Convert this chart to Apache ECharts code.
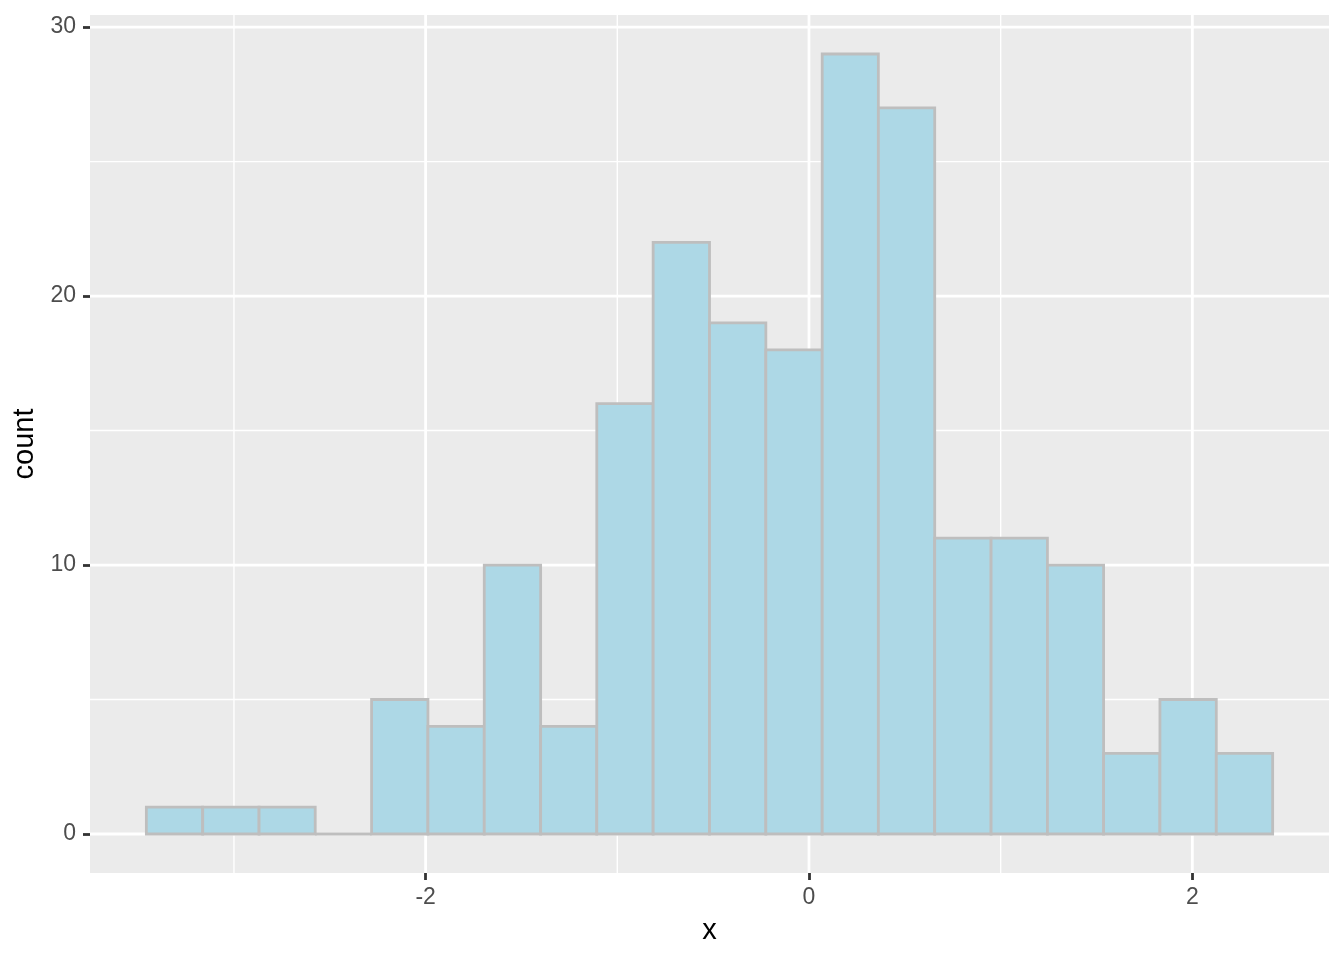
<!DOCTYPE html>
<html><head><meta charset="utf-8">
<script src="https://cdn.jsdelivr.net/npm/echarts@6/dist/echarts.min.js"></script>
<style>html,body{margin:0;padding:0;background:#fff}#c{width:1344px;height:960px}</style>
</head><body><div id="c"></div>
<script>
// Histogram bin edges (21 edges -> 20 bins) and counts
const binEdges = [-3.457, -3.163, -2.869, -2.576, -2.282, -1.988, -1.694, -1.400, -1.107, -0.813,
                  -0.519, -0.225, 0.069, 0.362, 0.656, 0.950, 1.244, 1.537, 1.831, 2.125, 2.419];
const counts = [1, 1, 1, 0, 5, 4, 10, 4, 16, 22, 19, 18, 29, 27, 11, 11, 10, 3, 5, 3];
const xMajorTicks = [-2, 0, 2];
const xMinorGrid = [-3, -1, 1];
const yMajorTicks = [0, 10, 20, 30];
const yMinorGrid = [5, 15, 25];
const xLimits = [-3.751, 2.713];
const yLimits = [-1.45, 30.45];

const FONT = '"Liberation Sans", Arial, Helvetica, sans-serif';
const bars = counts.map((c, i) => [binEdges[i], binEdges[i + 1], c]);

function vLines(width) {
  return function (params, api) {
    const cs = params.coordSys;
    const x = api.coord([api.value(0), 0])[0];
    return { type: 'line', shape: { x1: x, y1: cs.y, x2: x, y2: cs.y + cs.height },
      style: { stroke: '#FFFFFF', lineWidth: width } };
  };
}
function hLines(width) {
  return function (params, api) {
    const cs = params.coordSys;
    const y = api.coord([0, api.value(1)])[1];
    return { type: 'line', shape: { x1: cs.x, y1: y, x2: cs.x + cs.width, y2: y },
      style: { stroke: '#FFFFFF', lineWidth: width } };
  };
}

const chart = echarts.init(document.getElementById('c'), null, { renderer: 'canvas' });
chart.setOption({
  animation: false,
  backgroundColor: '#FFFFFF',
  grid: { left: 90, right: 15, top: 15, bottom: 87, show: true, backgroundColor: '#EBEBEB', borderWidth: 0, containLabel: false },
  xAxis: {
    type: 'value', min: xLimits[0], max: xLimits[1], position: 'bottom',
    axisLine: { show: false, onZero: false },
    splitLine: { show: false },
    axisTick: { show: true, customValues: xMajorTicks, length: 7, lineStyle: { color: '#333333', width: 2.8 } },
    axisLabel: { customValues: xMajorTicks, color: '#4D4D4D', fontSize: 23, fontFamily: FONT, margin: 13 },
    name: 'x', nameLocation: 'middle', nameGap: 43,
    nameTextStyle: { color: '#000000', fontSize: 29, fontFamily: FONT }
  },
  yAxis: {
    type: 'value', min: yLimits[0], max: yLimits[1], position: 'left',
    axisLine: { show: false, onZero: false },
    splitLine: { show: false },
    axisTick: { show: true, customValues: yMajorTicks, length: 7, lineStyle: { color: '#333333', width: 2.8 } },
    axisLabel: { customValues: yMajorTicks, color: '#4D4D4D', fontSize: 23, fontFamily: FONT, margin: 14 },
    name: 'count', nameLocation: 'middle', nameGap: 50, nameRotate: 90,
    nameTextStyle: { color: '#000000', fontSize: 29, fontFamily: FONT }
  },
  series: [
    { type: 'custom', silent: true, z: 1, renderItem: vLines(1.4), data: xMinorGrid.map(v => [v, 0]) },
    { type: 'custom', silent: true, z: 1, renderItem: hLines(1.4), data: yMinorGrid.map(v => [0, v]) },
    { type: 'custom', silent: true, z: 2, renderItem: vLines(2.8), data: xMajorTicks.map(v => [v, 0]) },
    { type: 'custom', silent: true, z: 2, renderItem: hLines(2.8), data: yMajorTicks.map(v => [0, v]) },
    {
      type: 'custom', z: 3,
      renderItem: function (params, api) {
        const p0 = api.coord([api.value(0), 0]);
        const p1 = api.coord([api.value(1), api.value(2)]);
        return { type: 'rect',
          shape: { x: p0[0], y: p1[1], width: p1[0] - p0[0], height: p0[1] - p1[1] },
          style: { fill: '#ADD8E6', stroke: '#BEBEBE', lineWidth: 2.8 } };
      },
      encode: { x: [0, 1], y: 2 },
      data: bars
    }
  ]
});
</script></body></html>
